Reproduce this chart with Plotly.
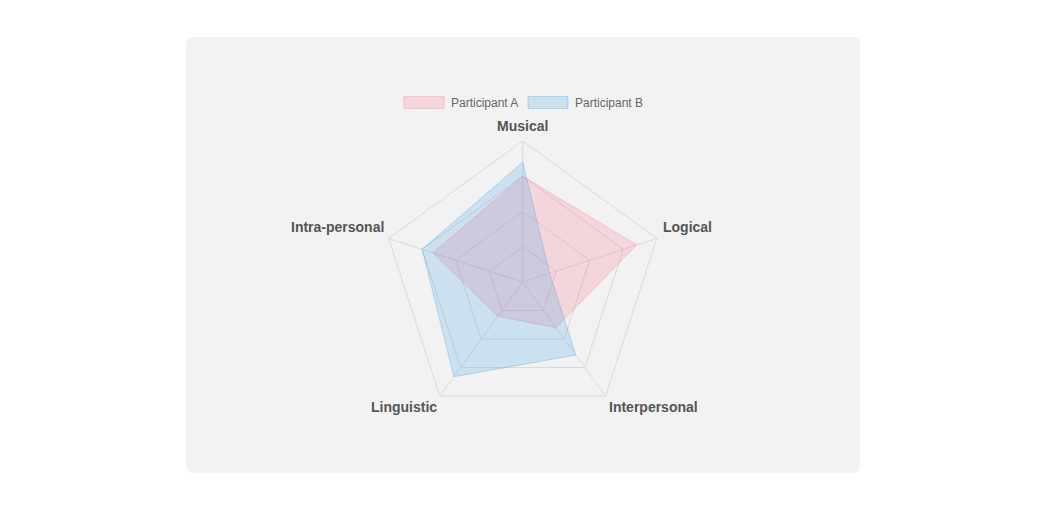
import math
import plotly.graph_objects as go

categories = ["Musical", "Logical", "Interpersonal", "Linguistic", "Intra-personal"]
values_a = [75, 85, 40, 30, 67]
values_b = [85, 20, 64, 83, 75]
series_names = ["Participant A", "Participant B"]
radial_ticks = [25, 50, 75, 100]
radial_max = 100

OFF = 8                      # page body margin
W, H = 1057 - 2 * OFF, 510 - 2 * OFF

def px(x):
    return (x - OFF) / W

def py(y):
    return 1 - (y - OFF) / H

def closed(seq):
    return list(seq) + [seq[0]]

fills = ["rgba(255,99,132,0.2)", "rgba(54,162,235,0.2)"]
lines = ["rgba(255,99,132,0.28)", "rgba(54,162,235,0.32)"]

fig = go.Figure()
for name, vals, fc, lc in zip(series_names, [values_a, values_b], fills, lines):
    fig.add_trace(go.Scatterpolar(
        r=closed(vals), theta=closed(categories), name=name,
        mode="lines", fill="toself", fillcolor=fc,
        line=dict(color=lc, width=1), hoverinfo="skip", showlegend=False,
    ))

shapes = []
# rounded card background
x0, x1 = px(186), px(860)
y1, y0 = py(37), py(473)
rx, ry = 8 / W, 8 / H
path = (f"M {x0+rx},{y0} L {x1-rx},{y0} Q {x1},{y0} {x1},{y0+ry} "
        f"L {x1},{y1-ry} Q {x1},{y1} {x1-rx},{y1} L {x0+rx},{y1} "
        f"Q {x0},{y1} {x0},{y1-ry} L {x0},{y0+ry} Q {x0},{y0} {x0+rx},{y0} Z")
shapes.append(dict(type="path", path=path, xref="paper", yref="paper",
                   fillcolor="#f2f2f2", line=dict(width=0), layer="below"))

annotations = []
# custom legend (boxes + text)
legend_x = [404, 528]
for name, fc, lc, lx in zip(series_names, fills, lines, legend_x):
    shapes.append(dict(type="rect", xref="paper", yref="paper",
                       x0=px(lx), x1=px(lx + 40), y0=py(108.5), y1=py(96.5),
                       fillcolor=fc, line=dict(color=lc, width=1), layer="above"))
    annotations.append(dict(text=name, x=px(lx + 45), y=py(102.5), xref="paper", yref="paper",
                            xanchor="left", yanchor="middle", showarrow=False,
                            font=dict(size=12, color="#666")))

# polar geometry
cx, cy, R = 522.7, 282, 141

# point labels placed just outside each vertex
label_style = [  # (dx, dy, xanchor)
    (0, -15, "center"),
    (4, -11, "left"),
    (1, 11, "left"),
    (-1, 11, "right"),
    (-3, -11, "right"),
]
n = len(categories)
for i, (cat, (dx, dy, xa)) in enumerate(zip(categories, label_style)):
    ang = math.radians(90 - 360 * i / n)
    vx, vy = cx + R * math.cos(ang), cy - R * math.sin(ang)
    annotations.append(dict(text=f"<b>{cat}</b>", x=px(vx + dx), y=py(vy + dy),
                            xref="paper", yref="paper", xanchor=xa, yanchor="middle",
                            showarrow=False, font=dict(size=14, color="#555")))

fig.update_layout(
    width=W, height=H, margin=dict(l=0, r=0, t=0, b=0),
    paper_bgcolor="white", plot_bgcolor="white",
    font=dict(family="Liberation Sans, Arial, sans-serif"),
    showlegend=False,
    shapes=shapes, annotations=annotations,
    polar=dict(
        domain=dict(x=[px(cx - R), px(cx + R)], y=[py(cy + R), py(cy - R)]),
        bgcolor="rgba(0,0,0,0)",
        gridshape="linear",
        radialaxis=dict(range=[0, radial_max], tickvals=radial_ticks, showticklabels=False,
                        ticks="", showline=False, gridcolor="#d9d9d9", gridwidth=1),
        angularaxis=dict(direction="clockwise", rotation=90, gridcolor="#d9d9d9",
                         linecolor="#d9d9d9", linewidth=1, ticks="", showticklabels=False),
    ),
)

fig.write_html("out.html")
